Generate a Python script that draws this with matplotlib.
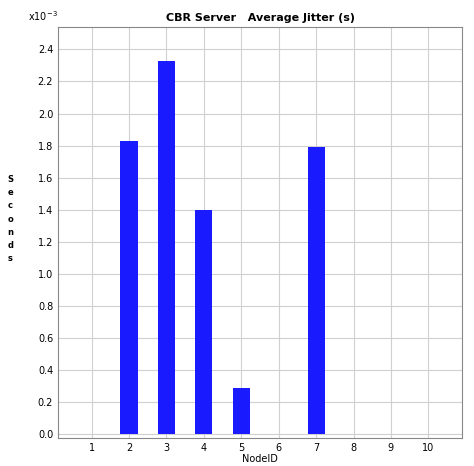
import matplotlib
matplotlib.use("Agg")
import matplotlib.pyplot as plt

nodes = [1, 2, 3, 4, 5, 6, 7, 8, 9, 10]
jitter_ms = [0, 1.83, 2.325, 1.395, 0.285, 0, 1.79, 0, 0, 0]
yticks = [0.0, 0.2, 0.4, 0.6, 0.8, 1.0, 1.2, 1.4, 1.6, 1.8, 2.0, 2.2, 2.4]

fig = plt.figure(figsize=(4.74, 4.66), dpi=100)
ax = fig.add_axes([58/474, 28/466, 404/474, 411/466])
ax.bar(nodes, jitter_ms, width=0.46, color="#1a1aff", zorder=3)
ax.set_xlim(0.1, 10.9)
ax.set_ylim(-0.025, 2.54)
ax.set_xticks(nodes)
ax.set_yticks(yticks)
ax.set_yticklabels([f"{v:.1f}" for v in yticks])
ax.tick_params(labelsize=7, length=0)
ax.grid(True, color="#d0d0d0", linewidth=0.8, zorder=0)
for s in ax.spines.values():
    s.set_color("#888888")
ax.set_title("CBR Server   Average Jitter (s)", fontsize=8, fontweight="bold", pad=4)
ax.set_xlabel("NodeID", fontsize=7, labelpad=1)
fig.text(0.022, 0.53, "S\ne\nc\no\nn\nd\ns", fontsize=6, fontweight="bold",
         ha="center", va="center", linespacing=1.6)
fig.text(28/474, 1 - 16/466, r"x10$^{-3}$", fontsize=7, va="center")
fig.savefig("out.png", dpi=100)
